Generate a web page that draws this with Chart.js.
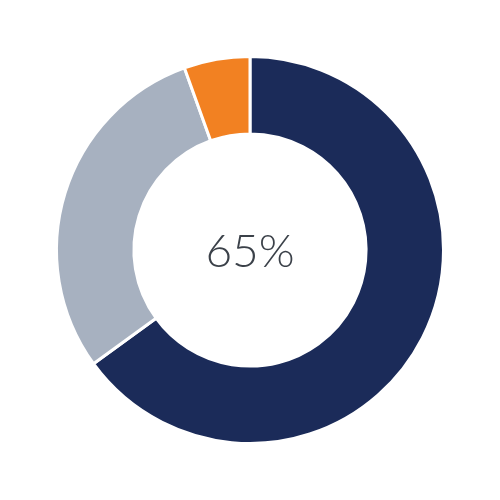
<!DOCTYPE html>
<html>
<head>
<meta charset="utf-8">
<script src="https://cdn.jsdelivr.net/npm/chart.js@4"></script>
<style>
  html, body { margin: 0; padding: 0; background: #fff; }
  #wrap { position: relative; width: 500px; height: 500px; }
  #centro {
    position: absolute; left: 0; top: 222px; width: 500px; text-align: center;
    font-family: Lato, "Open Sans", sans-serif; font-weight: 300; font-size: 46px;
    color: #3b4149; line-height: 56px;
  }
</style>
</head>
<body>
<div id="wrap">
  <canvas id="grafico" width="500" height="500"></canvas>
  <div id="centro">65%</div>
</div>
<script>
// Datos
const categorias = ['A', 'B', 'C'];
const valores = [65, 29.5, 5.5];
const colores = ['#1b2b59', '#a7b1c0', '#f28122'];

const ctx = document.getElementById('grafico').getContext('2d');

new Chart(ctx, {
  type: 'doughnut',
  data: {
    labels: categorias,
    datasets: [{
      data: valores,
      backgroundColor: colores,
      borderColor: '#ffffff',
      borderWidth: 3
    }]
  },
  options: {
    responsive: false,
    animation: false,
    cutout: '60%',
    layout: { padding: 55 },
    plugins: {
      legend: { display: false },
      tooltip: { enabled: false }
    }
  }
});
</script>
</body>
</html>
